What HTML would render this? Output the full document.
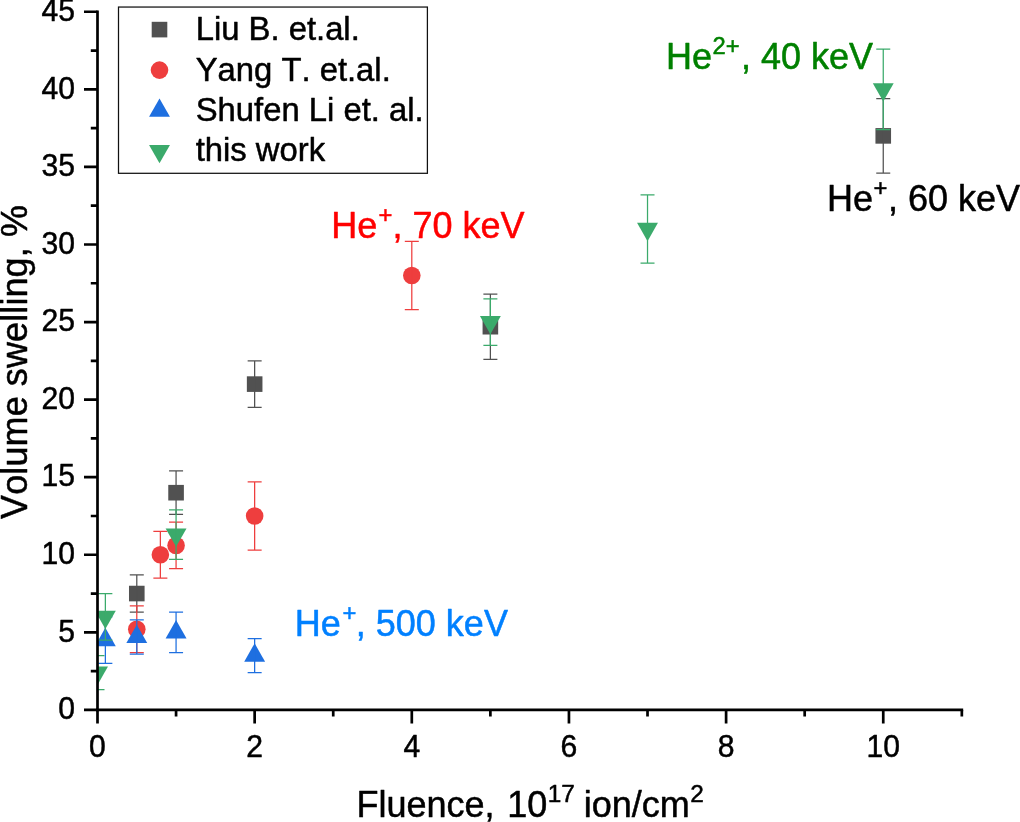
<!DOCTYPE html>
<html lang="en"><head><meta charset="utf-8"><title>Volume swelling vs fluence</title>
<style>
html,body{margin:0;padding:0;background:#fff;}
body{width:1020px;height:822px;overflow:hidden;}
svg{display:block;}
text{font-family:"Liberation Sans",Arial,Helvetica,sans-serif;font-kerning:none;fill:currentColor;stroke:currentColor;stroke-width:.5px;stroke-linejoin:round;color:#000;}
.tick{font-size:31.4px;}
.title{font-size:36px;}
.leg{font-size:32.8px;}
.ann{font-size:36px;}
.sup{font-size:23.8px;}
.tsup{font-size:24.4px;}
</style></head><body>
<svg width="1020" height="822" viewBox="0 0 1020 822">
<rect width="1020" height="822" fill="#fff"/>
<defs><clipPath id="plot"><rect x="97.5" y="0" width="930" height="711"/></clipPath></defs>
<g clip-path="url(#plot)">
<g>
<rect x="128.99" y="585.75" width="15.60" height="15.60" fill="#515151"/>
<rect x="168.27" y="484.90" width="15.60" height="15.60" fill="#515151"/>
<rect x="246.85" y="376.31" width="15.60" height="15.60" fill="#515151"/>
<rect x="482.57" y="318.90" width="15.60" height="15.60" fill="#515151"/>
<rect x="875.45" y="128.08" width="15.60" height="15.60" fill="#515151"/>
<path d="M136.79,574.93V612.16M129.79,574.93H143.79M129.79,612.16H143.79" stroke="#515151" stroke-width="1.25" fill="none"/>
<path d="M176.07,470.98V514.42M169.07,470.98H183.07M169.07,514.42H183.07" stroke="#515151" stroke-width="1.25" fill="none"/>
<path d="M254.65,360.83V407.38M247.65,360.83H261.65M247.65,407.38H261.65" stroke="#515151" stroke-width="1.25" fill="none"/>
<path d="M490.38,294.12V359.28M483.38,294.12H497.38M483.38,359.28H497.38" stroke="#515151" stroke-width="1.25" fill="none"/>
<path d="M883.25,98.65V173.12M876.25,98.65H890.25M876.25,173.12H890.25" stroke="#515151" stroke-width="1.25" fill="none"/>
</g>
<g>
<circle cx="136.79" cy="629.23" r="8.8" fill="#EE3E3E"/>
<circle cx="160.36" cy="554.76" r="8.8" fill="#EE3E3E"/>
<circle cx="176.07" cy="545.45" r="8.8" fill="#EE3E3E"/>
<circle cx="254.65" cy="515.98" r="8.8" fill="#EE3E3E"/>
<circle cx="411.80" cy="275.51" r="8.8" fill="#EE3E3E"/>
<path d="M136.79,605.96V652.50M129.79,605.96H143.79M129.79,652.50H143.79" stroke="#EE3E3E" stroke-width="1.25" fill="none"/>
<path d="M160.36,531.49V578.03M153.36,531.49H167.36M153.36,578.03H167.36" stroke="#EE3E3E" stroke-width="1.25" fill="none"/>
<path d="M176.07,522.18V568.72M169.07,522.18H183.07M169.07,568.72H183.07" stroke="#EE3E3E" stroke-width="1.25" fill="none"/>
<path d="M254.65,481.84V550.11M247.65,481.84H261.65M247.65,550.11H261.65" stroke="#EE3E3E" stroke-width="1.25" fill="none"/>
<path d="M411.80,241.38V309.64M404.80,241.38H418.80M404.80,309.64H418.80" stroke="#EE3E3E" stroke-width="1.25" fill="none"/>
</g>
<g>
<polygon points="105.36,627.84 115.81,646.21 94.91,646.21" fill="#1E6FE0"/>
<polygon points="136.79,624.73 147.24,643.10 126.34,643.10" fill="#1E6FE0"/>
<polygon points="176.07,620.08 186.52,638.45 165.62,638.45" fill="#1E6FE0"/>
<polygon points="254.65,643.35 265.10,661.72 244.20,661.72" fill="#1E6FE0"/>
<path d="M105.36,616.82V663.36M98.36,616.82H112.36M98.36,663.36H112.36" stroke="#1E6FE0" stroke-width="1.25" fill="none"/>
<path d="M136.79,619.92V654.05M129.79,619.92H143.79M129.79,654.05H143.79" stroke="#1E6FE0" stroke-width="1.25" fill="none"/>
<path d="M176.07,612.16V652.50M169.07,612.16H183.07M169.07,652.50H183.07" stroke="#1E6FE0" stroke-width="1.25" fill="none"/>
<path d="M254.65,638.54V672.67M247.65,638.54H261.65M247.65,672.67H261.65" stroke="#1E6FE0" stroke-width="1.25" fill="none"/>
</g>
<g>
<polygon points="97.50,684.92 107.95,666.55 87.05,666.55" fill="#3BAA6B"/>
<polygon points="105.36,629.07 115.81,610.70 94.91,610.70" fill="#3BAA6B"/>
<polygon points="176.07,546.84 186.52,528.47 165.62,528.47" fill="#3BAA6B"/>
<polygon points="490.38,334.30 500.82,315.93 479.93,315.93" fill="#3BAA6B"/>
<polygon points="647.52,241.22 657.98,222.85 637.07,222.85" fill="#3BAA6B"/>
<polygon points="883.25,101.59 893.70,83.22 872.80,83.22" fill="#3BAA6B"/>
<path d="M97.50,655.60V689.73M90.50,655.60H104.50M90.50,689.73H104.50" stroke="#3BAA6B" stroke-width="1.25" fill="none"/>
<path d="M105.36,593.54V640.09M98.36,593.54H112.36M98.36,640.09H112.36" stroke="#3BAA6B" stroke-width="1.25" fill="none"/>
<path d="M176.07,509.77V559.41M169.07,509.77H183.07M169.07,559.41H183.07" stroke="#3BAA6B" stroke-width="1.25" fill="none"/>
<path d="M490.38,298.78V345.32M483.38,298.78H497.38M483.38,345.32H497.38" stroke="#3BAA6B" stroke-width="1.25" fill="none"/>
<path d="M647.52,194.84V263.10M640.52,194.84H654.52M640.52,263.10H654.52" stroke="#3BAA6B" stroke-width="1.25" fill="none"/>
<path d="M883.25,49.00V129.68M876.25,49.00H890.25M876.25,129.68H890.25" stroke="#3BAA6B" stroke-width="1.25" fill="none"/>
</g>
</g>
<g stroke="#000" stroke-width="2.7" fill="none" stroke-linecap="butt">
<path d="M97.50,10.42V711.25"/>
<path d="M96.15,709.90H963.18"/>
<path d="M97.50,709.90h-13.5M97.50,632.33h-13.5M97.50,554.76h-13.5M97.50,477.19h-13.5M97.50,399.62h-13.5M97.50,322.05h-13.5M97.50,244.48h-13.5M97.50,166.91h-13.5M97.50,89.34h-13.5M97.50,11.77h-13.5M97.50,671.12h-6.7M97.50,593.54h-6.7M97.50,515.98h-6.7M97.50,438.40h-6.7M97.50,360.83h-6.7M97.50,283.26h-6.7M97.50,205.69h-6.7M97.50,128.12h-6.7M97.50,50.55h-6.7M97.50,709.90v13.5M254.65,709.90v13.5M411.80,709.90v13.5M568.95,709.90v13.5M726.10,709.90v13.5M883.25,709.90v13.5M176.07,709.90v6.7M333.23,709.90v6.7M490.38,709.90v6.7M647.52,709.90v6.7M804.68,709.90v6.7M961.83,709.90v6.7"/>
</g>
<g class="tick" text-anchor="end">
<text transform="translate(75.1,719.10) scale(.96,1)">0</text>
<text transform="translate(75.1,641.53) scale(.96,1)">5</text>
<text transform="translate(75.1,563.96) scale(.96,1)">10</text>
<text transform="translate(75.1,486.39) scale(.96,1)">15</text>
<text transform="translate(75.1,408.82) scale(.96,1)">20</text>
<text transform="translate(75.1,331.25) scale(.96,1)">25</text>
<text transform="translate(75.1,253.68) scale(.96,1)">30</text>
<text transform="translate(75.1,176.11) scale(.96,1)">35</text>
<text transform="translate(75.1,98.54) scale(.96,1)">40</text>
<text transform="translate(75.1,20.97) scale(.96,1)">45</text>
</g>
<g class="tick" text-anchor="middle">
<text transform="translate(97.50,756.8) scale(.96,1)">0</text>
<text transform="translate(254.65,756.8) scale(.96,1)">2</text>
<text transform="translate(411.80,756.8) scale(.96,1)">4</text>
<text transform="translate(568.95,756.8) scale(.96,1)">6</text>
<text transform="translate(726.10,756.8) scale(.96,1)">8</text>
<text transform="translate(883.25,756.8) scale(.96,1)">10</text>
</g>
<text class="title" y="816.5"><tspan x="356.5">Fluence, </tspan><tspan x="507.2">10</tspan><tspan class="tsup" x="547.8" dy="-14.5">17</tspan><tspan x="573.7" dy="14.5"> ion/cm</tspan><tspan class="tsup" x="690.2" dy="-14.5">2</tspan></text>
<text class="title" style="letter-spacing:.1px" transform="translate(26.6,518.9) rotate(-90)">Volume swelling, %</text>
<rect x="118.5" y="7.05" width="308.9" height="166.25" fill="#fff" stroke="#111" stroke-width="1.25"/>
<rect x="151.70" y="21.80" width="15.60" height="15.60" fill="#515151"/>
<circle cx="159.50" cy="70.10" r="8.8" fill="#EE3E3E"/>
<polygon points="159.50,98.45 169.95,116.82 149.05,116.82" fill="#1E6FE0"/>
<polygon points="159.50,163.25 169.95,144.88 149.05,144.88" fill="#3BAA6B"/>
<text class="leg" x="195.7" y="40.4">Liu B. et.al.</text>
<text class="leg" x="195.7" y="81.0">Yang T. et.al.</text>
<text class="leg" x="195.7" y="121.2">Shufen Li et. al.</text>
<text class="leg" x="195.7" y="161.4">this work</text>
<text class="ann" style="color:#FF0000" y="237.9"><tspan x="331.2">He</tspan><tspan class="sup" x="378.6" dy="-15">+</tspan><tspan x="392.4" dy="15">, 70 keV</tspan></text>
<text class="ann" style="color:#0080FF" y="636.0"><tspan x="294.8">He</tspan><tspan class="sup" x="342.4" dy="-15">+</tspan><tspan x="355.8" dy="15">, 500 keV</tspan></text>
<text class="ann" style="color:#008000" y="68.6"><tspan x="666.0">He</tspan><tspan class="sup" x="712.6" dy="-15">2+</tspan><tspan x="741.0" dy="15">, 40 keV</tspan></text>
<text class="ann" style="color:#000000" y="210.7"><tspan x="826.9">He</tspan><tspan class="sup" x="873.4" dy="-15">+</tspan><tspan x="887.9" dy="15">, 60 keV</tspan></text>
</svg></body></html>
